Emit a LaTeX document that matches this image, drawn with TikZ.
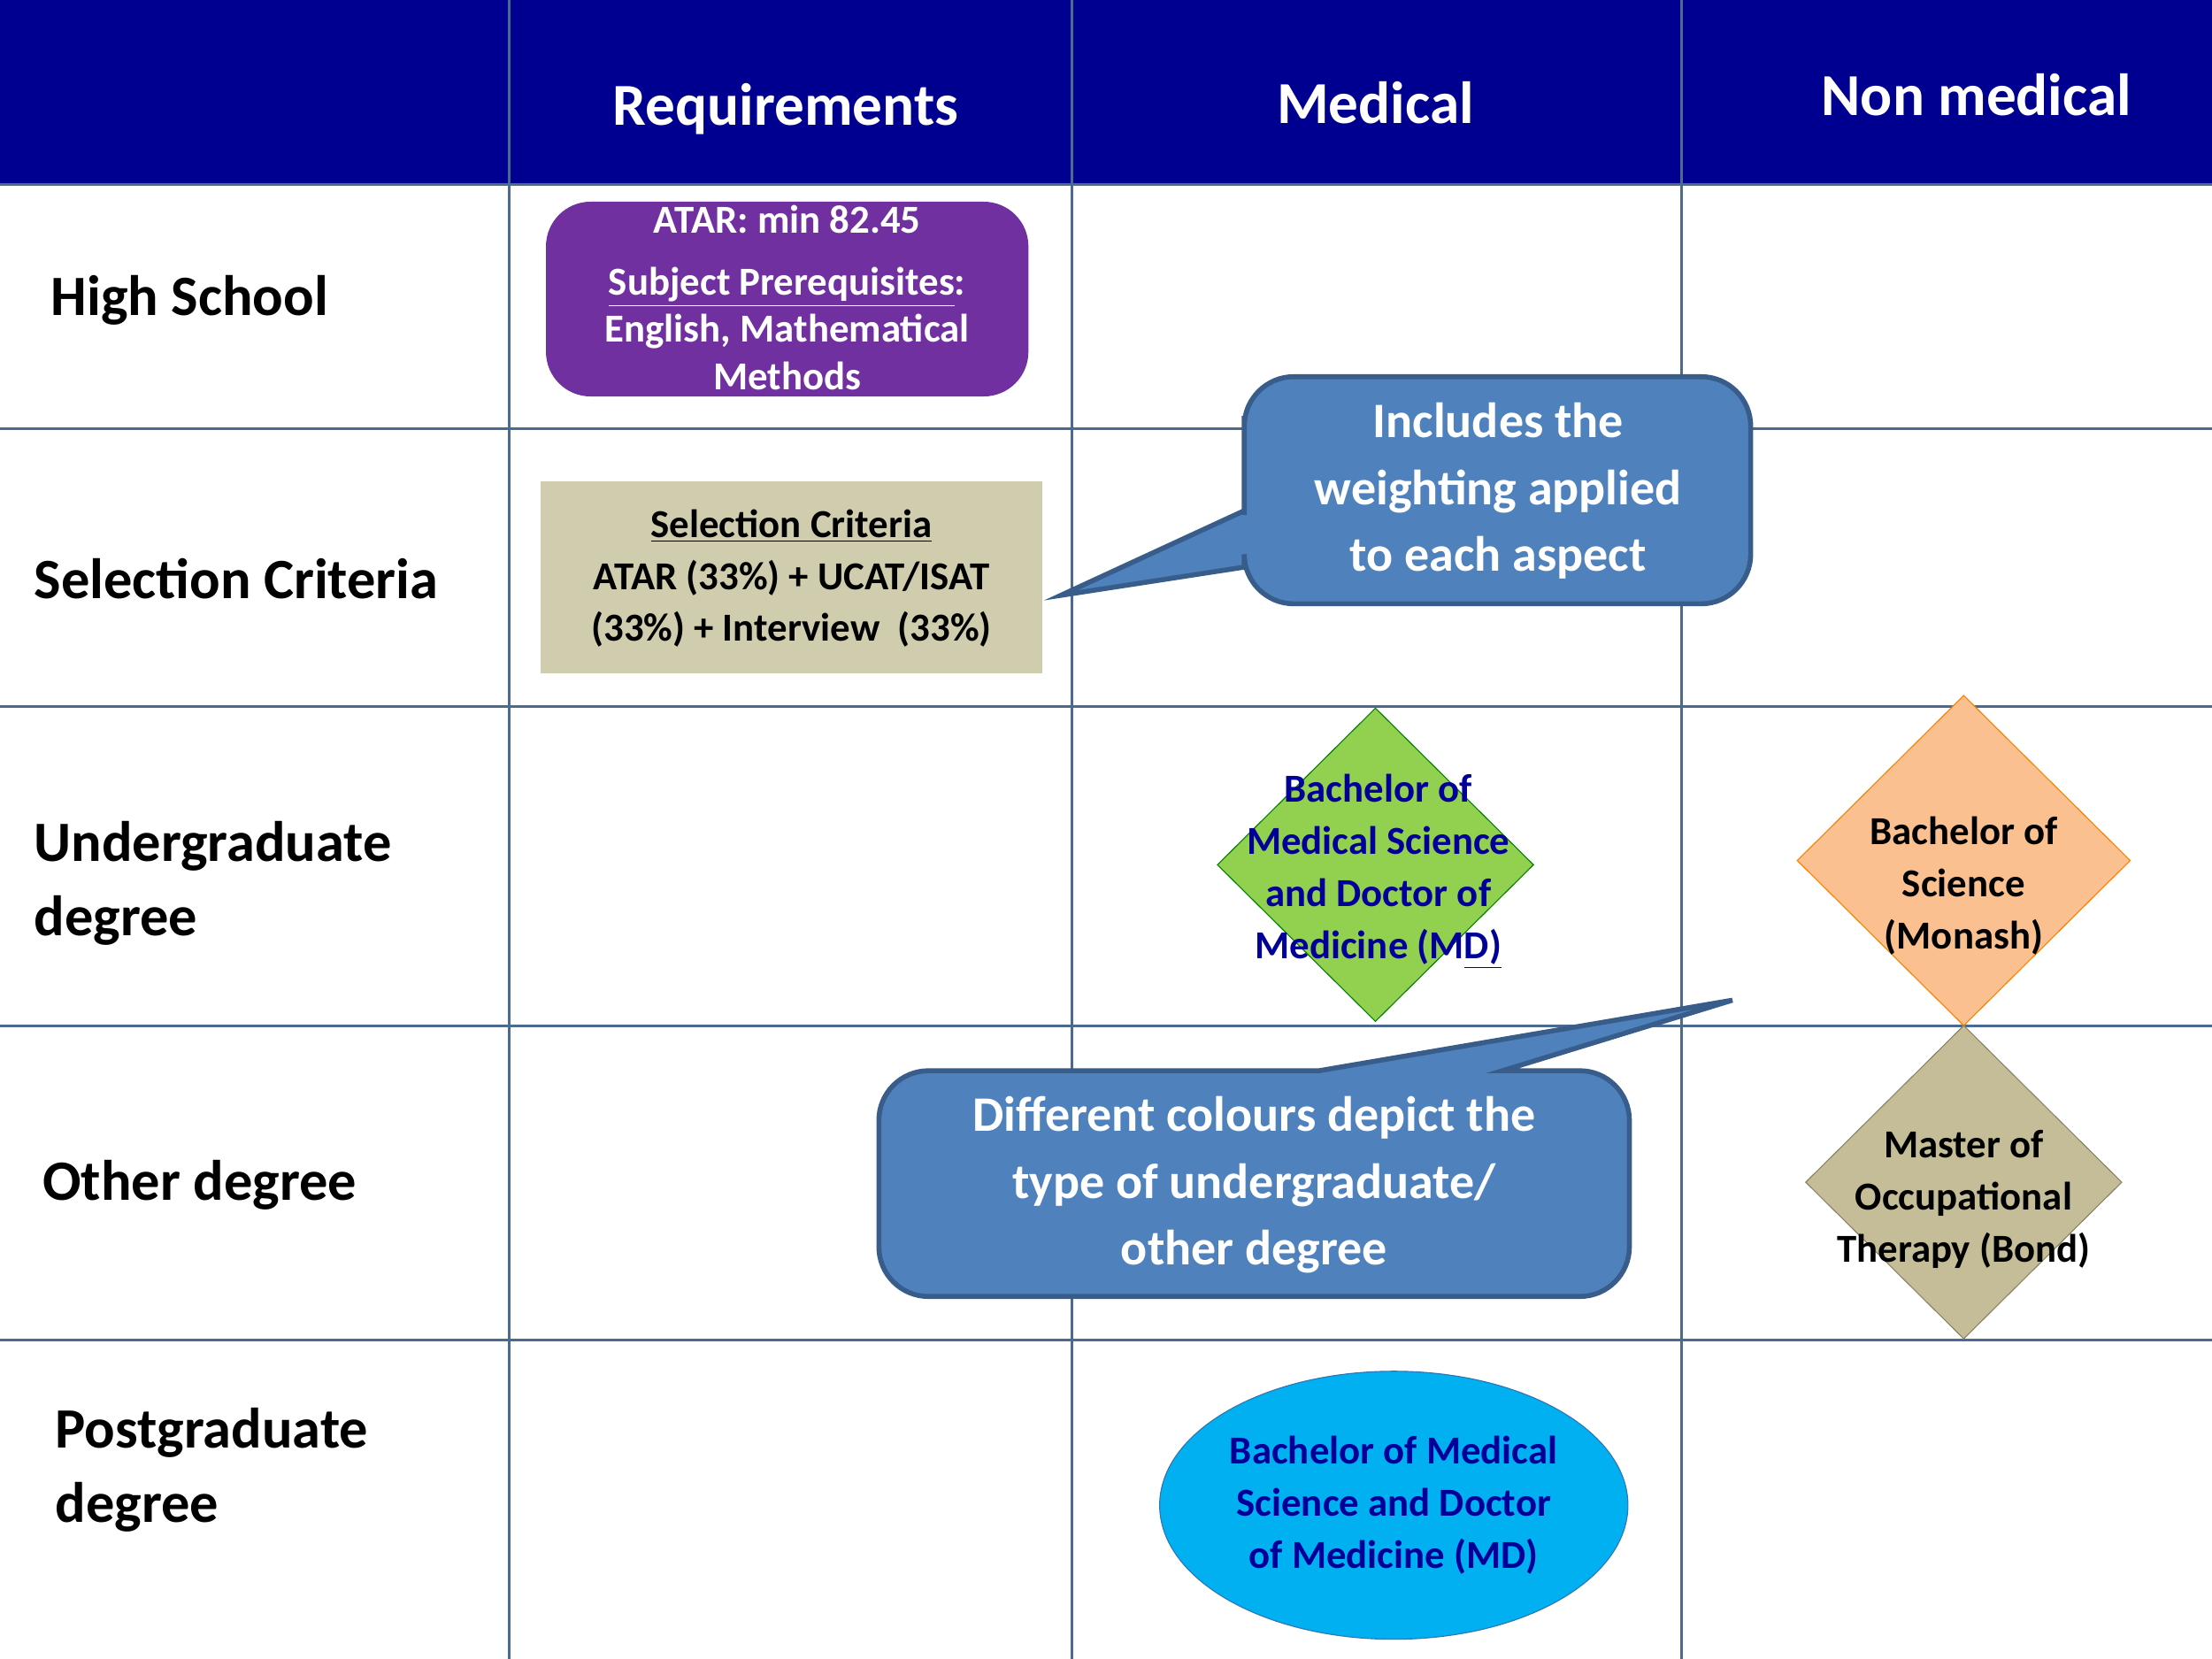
\documentclass[tikz,border=0pt]{standalone}
\usepackage{fontspec}
\setmainfont{Carlito}
\usetikzlibrary{shapes.geometric}
\definecolor{navy}{HTML}{000090}
\definecolor{gridc}{HTML}{4A6A90}
\definecolor{purp}{HTML}{7030A0}
\definecolor{tanb}{HTML}{D0CCAE}
\definecolor{calf}{HTML}{4F81BD}
\definecolor{cald}{HTML}{385D8A}
\definecolor{dtext}{HTML}{000099}
\definecolor{grf}{HTML}{92D050}
\definecolor{orf}{HTML}{FAC090}
\definecolor{tand}{HTML}{C4BD97}
\definecolor{elf}{HTML}{00B0F0}
\definecolor{eld}{HTML}{2E75B6}
\tikzset{
 hdr/.style={text=white,font=\bfseries\fontsize{24}{28}\selectfont},
 rowlab/.style={anchor=west,align=left,font=\bfseries\fontsize{23}{30}\selectfont},
 boxtxt/.style={align=center,font=\bfseries\fontsize{16}{19}\selectfont},
 callout/.style={fill=calf,draw=cald,line width=2pt},
 calltxt/.style={align=center,text=white,font=\bfseries\fontsize{20}{27}\selectfont},
 dtxt/.style={align=center,text=dtext,font=\bfseries\fontsize{16}{21}\selectfont},
}
\begin{document}
\begin{tikzpicture}[x=0.02cm,y=-0.02cm]
\useasboundingbox (0,0) rectangle (1568,1176);
\fill[navy] (0,0) rectangle (1568,131);
\foreach \y in {131,304,501,727,950}{\draw[gridc,line width=1pt] (0,\y) -- (1568,\y);}
\foreach \x in {361,760,1192}{\draw[gridc,line width=1pt] (\x,0) -- (\x,1176);}
\node[hdr] (h1) at (557,77) {Requirements};
\node[hdr] (h2) at (975,73) {Medical};
\node[hdr] (h3) at (1401,67) {Non medical};
\node[rowlab] (r1) at (30,213) {High School};
\node[rowlab] (r2) at (18,410) {Selection Criteria};
\node[rowlab] (r3) at (18,626) {Undergraduate\\degree};
\node[rowlab] (r4) at (24,840) {Other degree};
\node[rowlab] (r5) at (33,1042) {Postgraduate\\degree};
% purple box
\fill[purp,rounded corners=18] (387,143) rectangle (729,281);
\node[boxtxt,text=white] (pb) at (558,211) {ATAR: min 82.45\\[6pt]\underline{Subject Prerequisites}:\\English, Mathematical\\Methods};
% tan box
\fill[tanb] (383,341) rectangle (739,477);
\node[boxtxt] (tb) at (561,410) {\underline{Selection Criteria}\\[2pt]ATAR (33\%) + UCAT/ISAT\\[2pt](33\%) + Interview~~(33\%)};
% callout 1
\draw[callout] (882,402) [rounded corners=20] -- (882,428) -- (1241,428) -- (1241,267) -- (882,267) -- (882,330) [sharp corners] -- (882,362) -- (752,422) -- cycle;
\node[calltxt] (c1) at (1062,348) {Includes the\\weighting applied\\to each aspect};
% green diamond
\draw[fill=grf,draw=green!50!black] (975,502) -- (1087,613) -- (975,724) -- (863,613) -- cycle;
\node[dtxt] (d1) at (977,618) {Bachelor of\\Medical Science\\and Doctor of\\Medicine (M\underline{D)}};
% orange diamond
\draw[fill=orf,draw=orange] (1392,493) -- (1510,610) -- (1392,727) -- (1274,610) -- cycle;
\node[dtxt,text=black] (d2) at (1392,628) {Bachelor of\\Science\\(Monash)};
% tan diamond
\draw[fill=tand,draw=tand!70!black] (1392,727) -- (1504,838) -- (1392,949) -- (1280,838) -- cycle;
\node[dtxt,text=black] (d3) at (1392,850) {Master of\\Occupational\\Therapy (Bond)};
% callout 2
\draw[callout] (1065,759) [rounded corners=20] -- (1155,759) -- (1155,919) -- (623,919) -- (623,759) -- (900,759) [sharp corners] -- (935,759) -- (1228,709) -- cycle;
\node[calltxt] (c2) at (889,840) {Different colours depict the\\type of undergraduate/\\other degree};
% ellipse
\node[ellipse,fill=elf,draw=eld,inner sep=0pt,minimum width=6.64cm,minimum height=3.8cm,dtxt] (e1) at (988,1067) {Bachelor of Medical\\Science and Doctor\\of Medicine (MD)};
\end{tikzpicture}
\end{document}
